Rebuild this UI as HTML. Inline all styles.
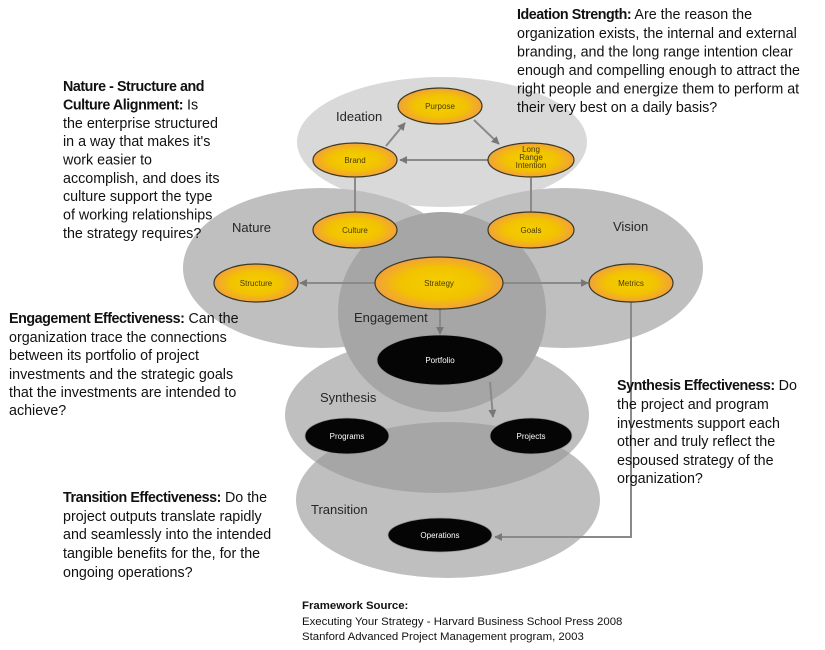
<!DOCTYPE html>
<html>
<head>
<meta charset="utf-8">
<style>
  html, body { margin: 0; padding: 0; background: #ffffff; }
  body { width: 825px; height: 650px; overflow: hidden; }
  svg { display: block; }
  .t { font-family: "Liberation Sans", Arial, sans-serif; font-size: 14.3px; fill: #111; }
  .b { font-weight: bold; letter-spacing: -0.45px; }
  .lbl { font-family: "Liberation Sans", Arial, sans-serif; font-size: 13px; fill: #262626; }
  .ny { font-family: "Liberation Sans", Arial, sans-serif; font-size: 8px; fill: #4a3900; text-anchor: middle; }
  .nb { font-family: "Liberation Sans", Arial, sans-serif; font-size: 8px; fill: #ffffff; text-anchor: middle; }
  .fs { font-family: "Liberation Sans", Arial, sans-serif; font-size: 11.4px; fill: #111; }
</style>
</head>
<body>
<svg width="825" height="650" viewBox="0 0 825 650" xmlns="http://www.w3.org/2000/svg">
  <defs>
    <radialGradient id="gy" cx="50%" cy="50%" r="50%">
      <stop offset="0" stop-color="#f4cf00"/>
      <stop offset="0.6" stop-color="#f2c300"/>
      <stop offset="1" stop-color="#f2a13a"/>
    </radialGradient>
    <clipPath id="cs"><ellipse cx="437" cy="415" rx="152" ry="78"/></clipPath>
    <marker id="ar" viewBox="0 0 10 10" refX="9" refY="5" markerWidth="4" markerHeight="4" orient="auto">
      <path d="M0,0 L10,5 L0,10 z" fill="#777777"/>
    </marker>
  </defs>

  <rect width="825" height="650" fill="#ffffff"/>

  <!-- background rings -->
  <ellipse cx="442" cy="142" rx="145" ry="65" fill="#d9d9d9"/>
  <ellipse cx="322" cy="268" rx="139" ry="80" fill="#bfbfbf"/>
  <ellipse cx="564" cy="268" rx="139" ry="80" fill="#bfbfbf"/>
  <ellipse cx="437" cy="415" rx="152" ry="78" fill="#bfbfbf"/>
  <ellipse cx="448" cy="500" rx="152" ry="78" fill="#bfbfbf"/>
  <ellipse cx="448" cy="500" rx="152" ry="78" fill="#a6a6a6" clip-path="url(#cs)"/>
  <ellipse cx="442" cy="312" rx="104" ry="100" fill="#a6a6a6"/>

  <!-- ring labels -->
  <text class="lbl" x="336" y="121">Ideation</text>
  <text class="lbl" x="232" y="232">Nature</text>
  <text class="lbl" x="613" y="231">Vision</text>
  <text class="lbl" x="354" y="322">Engagement</text>
  <text class="lbl" x="320" y="402">Synthesis</text>
  <text class="lbl" x="311" y="514">Transition</text>

  <!-- connectors -->
  <g stroke="#8a8a8a" stroke-width="2" fill="none">
    <line x1="386" y1="146" x2="405" y2="123" marker-end="url(#ar)"/>
    <line x1="474" y1="120" x2="499" y2="144" marker-end="url(#ar)"/>
    <line x1="488" y1="160" x2="400" y2="160" marker-end="url(#ar)"/>
    <line x1="355" y1="212" x2="355" y2="178"/>
    <line x1="531" y1="212" x2="531" y2="178"/>
    <line x1="375" y1="283" x2="300" y2="283" marker-end="url(#ar)"/>
    <line x1="503" y1="283" x2="588" y2="283" marker-end="url(#ar)"/>
    <line x1="440" y1="309" x2="440" y2="334" marker-end="url(#ar)"/>
    <line x1="490" y1="382" x2="493" y2="417" marker-end="url(#ar)"/>
    <polyline points="631,302 631,537 495,537" marker-end="url(#ar)"/>
  </g>

  <!-- yellow nodes -->
  <g fill="url(#gy)" stroke="#3a3a20" stroke-width="1.2">
    <ellipse cx="440" cy="106" rx="42" ry="18"/>
    <ellipse cx="355" cy="160" rx="42" ry="17"/>
    <ellipse cx="531" cy="160" rx="43" ry="17"/>
    <ellipse cx="355" cy="230" rx="42" ry="18"/>
    <ellipse cx="531" cy="230" rx="43" ry="18"/>
    <ellipse cx="256" cy="283" rx="42" ry="19"/>
    <ellipse cx="439" cy="283" rx="64" ry="26"/>
    <ellipse cx="631" cy="283" rx="42" ry="19"/>
  </g>
  <text class="ny" x="440" y="109">Purpose</text>
  <text class="ny" x="355" y="163">Brand</text>
  <text class="ny" x="531" y="152" font-size="7">Long</text>
  <text class="ny" x="531" y="160" font-size="7">Range</text>
  <text class="ny" x="531" y="168" font-size="7">Intention</text>
  <text class="ny" x="355" y="233">Culture</text>
  <text class="ny" x="531" y="233">Goals</text>
  <text class="ny" x="256" y="286">Structure</text>
  <text class="ny" x="439" y="286">Strategy</text>
  <text class="ny" x="631" y="286">Metrics</text>

  <!-- black nodes -->
  <g fill="#050505" stroke="#9a9a9a" stroke-width="0.8">
    <ellipse cx="440" cy="360" rx="63" ry="25"/>
    <ellipse cx="347" cy="436" rx="42" ry="18"/>
    <ellipse cx="531" cy="436" rx="41" ry="18"/>
    <ellipse cx="440" cy="535" rx="52" ry="17"/>
  </g>
  <text class="nb" x="440" y="363">Portfolio</text>
  <text class="nb" x="347" y="439">Programs</text>
  <text class="nb" x="531" y="439">Projects</text>
  <text class="nb" x="440" y="538">Operations</text>

  <!-- Ideation Strength block -->
  <text class="t" x="517" y="19"><tspan class="b">Ideation Strength:</tspan> Are the reason the</text>
  <text class="t" x="517" y="38">organization exists, the internal and external</text>
  <text class="t" x="517" y="56.5">branding, and the long range intention clear</text>
  <text class="t" x="517" y="75">enough and compelling enough to attract the</text>
  <text class="t" x="517" y="93.5">right people and energize them to perform at</text>
  <text class="t" x="517" y="112">their very best on a daily basis?</text>

  <!-- Nature block -->
  <text class="t" x="63" y="91"><tspan class="b">Nature - Structure and</tspan></text>
  <text class="t" x="63" y="109.5"><tspan class="b">Culture Alignment:</tspan> Is</text>
  <text class="t" x="63" y="128">the enterprise structured</text>
  <text class="t" x="63" y="146">in a way that makes it's</text>
  <text class="t" x="63" y="164.5">work easier to</text>
  <text class="t" x="63" y="183">accomplish, and does its</text>
  <text class="t" x="63" y="201">culture support the type</text>
  <text class="t" x="63" y="219.5">of working relationships</text>
  <text class="t" x="63" y="238">the strategy requires?</text>

  <!-- Engagement block -->
  <text class="t" x="9" y="323"><tspan class="b">Engagement Effectiveness:</tspan> Can the</text>
  <text class="t" x="9" y="342">organization trace the connections</text>
  <text class="t" x="9" y="360">between its portfolio of project</text>
  <text class="t" x="9" y="379">investments and the strategic goals</text>
  <text class="t" x="9" y="397">that the investments are intended to</text>
  <text class="t" x="9" y="415">achieve?</text>

  <!-- Synthesis block -->
  <text class="t" x="617" y="390"><tspan class="b">Synthesis Effectiveness:</tspan> Do</text>
  <text class="t" x="617" y="409">the project and program</text>
  <text class="t" x="617" y="428">investments support each</text>
  <text class="t" x="617" y="446">other and truly reflect the</text>
  <text class="t" x="617" y="465">espoused strategy of the</text>
  <text class="t" x="617" y="483">organization?</text>

  <!-- Transition block -->
  <text class="t" x="63" y="502"><tspan class="b">Transition Effectiveness:</tspan> Do the</text>
  <text class="t" x="63" y="521">project outputs translate rapidly</text>
  <text class="t" x="63" y="539">and seamlessly into the intended</text>
  <text class="t" x="63" y="558">tangible benefits for the, for the</text>
  <text class="t" x="63" y="577">ongoing operations?</text>

  <!-- Framework source -->
  <text class="fs" x="302" y="609" font-weight="bold">Framework Source:</text>
  <text class="fs" x="302" y="625">Executing Your Strategy - Harvard Business School Press 2008</text>
  <text class="fs" x="302" y="640">Stanford Advanced Project Management program, 2003</text>
</svg>
</body>
</html>
